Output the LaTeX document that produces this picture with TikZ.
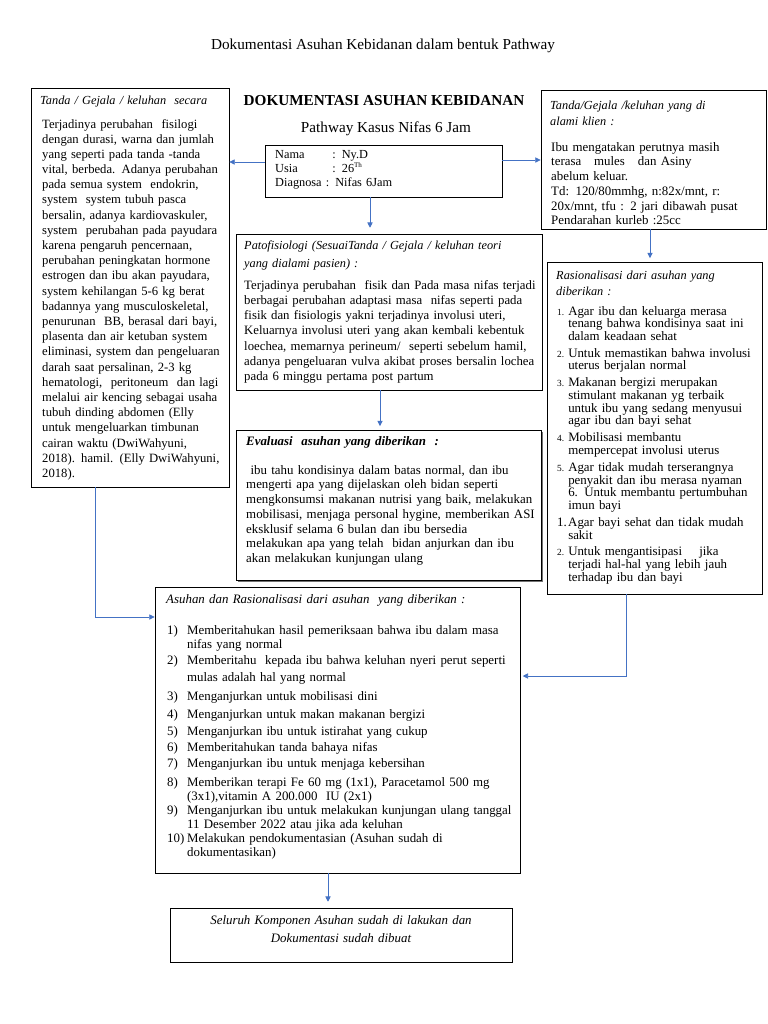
\documentclass[tikz,border=0pt]{standalone}
\usepackage{fontspec}
\setmainfont{Liberation Serif}
\usepackage{array}
\usetikzlibrary{arrows.meta, positioning, fit, shadows}
\definecolor{linkBlue}{HTML}{4472C4}

\newcommand{\ratnum}[1]{{\fontsize{8}{9}\selectfont #1}}
\newcommand{\js}[1]{\makebox[\linewidth][s]{#1}}

\tikzset{
  frame/.style={draw, line width=0.7pt, inner sep=0pt},
  txt/.style={anchor=base west, inner sep=0pt, align=left},
  head/.style={txt, font=\fontsize{10.5}{13.7}\selectfont\itshape},
  link/.style={draw=linkBlue, line width=0.6pt, -{Triangle[width=4.5pt,length=4.5pt]}},
}

\begin{document}
\begin{tikzpicture}[x=0.03cm, y=-0.03cm]
  \fill[white] (0,0) rectangle (768,1024);
  \useasboundingbox (0,0) rectangle (768,1024);

  % title
  \node[anchor=base, inner sep=0pt, font=\fontsize{13}{15}\selectfont] (title) at (383,49)
    {Dokumentasi Asuhan Kebidanan dalam bentuk Pathway};
  \node[anchor=base, inner sep=0pt, font=\bfseries\fontsize{13}{15}\selectfont] (heading) at (384,105)
    {DOKUMENTASI ASUHAN KEBIDANAN};
  \node[anchor=base, inner sep=0pt, font=\fontsize{13}{15}\selectfont] (subheading) at (386,132)
    {Pathway Kasus Nifas 6 Jam};

  % frames
  \node[frame, fit={(31,88) (229,487)}] (tanda) {};
  \node[frame, fit={(265,145) (502,197)}] (info) {};
  \node[frame, fit={(541,90) (766,229)}] (klien) {};
  \node[frame, fit={(236,234) (542,390)}] (pato) {};
  \node[frame, fit={(547,262) (762,594)}] (rasional) {};
  \node[frame, fill=white, drop shadow={shadow xshift=1.3pt, shadow yshift=-1.3pt, fill=black!55, opacity=1},
        fit={(236,430) (541,580)}] (evaluasi) {};
  \node[frame, fit={(155,587) (520,873)}] (asuhan) {};
  \node[frame, fit={(170,908) (512,962)}] (selesai) {};

  % left box
  \node[head, text width=6.5cm] (tandaHead) at (40,104) {Tanda / Gejala / keluhan\ \ secara};
  \node[txt, text width=7cm, font=\fontsize{10.8}{12.97}\selectfont] (tandaText) at (42,128) {%
    Terjadinya perubahan\ \ fisilogi\\
    dengan durasi, warna dan jumlah\\
    yang seperti pada tanda -tanda\\
    vital, berbeda. Adanya perubahan\\
    pada semua system\ \ endokrin,\\
    system\ \ system tubuh pasca\\
    bersalin, adanya kardiovaskuler,\\
    system\ \ perubahan pada payudara\\
    karena pengaruh pencernaan,\\
    perubahan peningkatan hormone\\
    estrogen dan ibu akan payudara,\\
    system kehilangan 5-6 kg berat\\
    badannya yang musculoskeletal,\\
    penurunan\ \ BB, berasal dari bayi,\\
    plasenta dan air ketuban system\\
    eliminasi, system dan pengeluaran\\
    darah saat persalinan, 2-3 kg\\
    hematologi,\ \ peritoneum\ \ dan lagi\\
    melalui air kencing sebagai usaha\\
    tubuh dinding abdomen (Elly\\
    untuk mengeluarkan timbunan\\
    cairan waktu (DwiWahyuni,\\
    2018). hamil. (Elly DwiWahyuni,\\
    2018).};

  % identity box
  \node[txt, text width=6.5cm, font=\fontsize{10.5}{11.95}\selectfont] (infoText) at (275,158) {%
    \begin{tabular}[t]{@{}p{48.7pt}@{}l@{}}
      Nama & : Ny.D\\
      Usia & : 26\textsuperscript{\fontsize{6}{7}\selectfont Th}\\
      \multicolumn{2}{@{}l@{}}{Diagnosa : Nifas 6Jam}
    \end{tabular}};

  % right top box
  \node[head, text width=7cm] (klienHead) at (550,109) {Tanda/Gejala /keluhan yang di\\alami klien :};
  \node[txt, text width=7cm, font=\fontsize{11}{12.63}\selectfont] (klienText) at (551,151) {%
    Ibu mengatakan perutnya masih\\
    \makebox[5.05cm][s]{terasa\quad mules\quad dan Asiny}\\
    abelum keluar.\\
    Td: 120/80mmhg, n:82x/mnt, r:\\
    20x/mnt, tfu : 2 jari dibawah pusat\\
    Pendarahan kurleb :25cc};

  % pathophysiology box
  \node[head, text width=10.5cm, font=\fontsize{10.5}{15.4}\selectfont\itshape] (patoHead) at (244,249)
    {Patofisiologi (SesuaiTanda / Gejala / keluhan teori\\yang dialami pasien) :};
  \node[txt, text width=10.5cm, font=\fontsize{10.9}{13.06}\selectfont] (patoText) at (244,289) {%
    Terjadinya perubahan\ \ fisik dan Pada masa nifas terjadi\\
    berbagai perubahan adaptasi masa\ \ nifas seperti pada\\
    fisik dan fisiologis yakni terjadinya involusi uteri,\\
    Keluarnya involusi uteri yang akan kembali kebentuk\\
    loechea, memarnya perineum/\ \ seperti sebelum hamil,\\
    adanya pengeluaran vulva akibat proses bersalin lochea\\
    pada 6 minggu pertama post partum};

  % rationale box
  \node[head, text width=6.5cm] (rasionalHead) at (556,279) {Rasionalisasi dari asuhan yang\\diberikan :};
  \node[txt, text width=6.5cm, font=\fontsize{11}{10.75}\selectfont] (rasionalText) at (557,315) {%
    \begin{tabular}[t]{@{}p{9.4pt}@{}p{162pt}@{}}
      \ratnum{1.} & \js{Agar ibu dan keluarga merasa}\\
                  & \js{tenang bahwa kondisinya saat ini}\\
                  & dalam keadaan sehat\\[3.5pt]
      \ratnum{2.} & Untuk memastikan bahwa involusi\\
                  & uterus berjalan normal\\[3.5pt]
      \ratnum{3.} & \js{Makanan bergizi merupakan}\\
                  & \js{stimulant makanan yg terbaik}\\
                  & \js{untuk ibu yang sedang menyusui}\\
                  & agar ibu dan bayi sehat\\[3.5pt]
      \ratnum{4.} & \js{Mobilisasi membantu}\\
                  & mempercepat involusi uterus\\[3.5pt]
      \ratnum{5.} & \js{Agar tidak mudah terserangnya}\\
                  & \js{penyakit dan ibu merasa nyaman}\\
                  & \js{6. Untuk membantu pertumbuhan}\\
                  & imun bayi\\[3.5pt]
      1.          & Agar bayi sehat dan tidak mudah\\
                  & sakit\\[3.5pt]
      \ratnum{2.} & Untuk mengantisipasi\quad\ jika\\
                  & terjadi hal-hal yang lebih jauh\\
                  & terhadap ibu dan bayi
    \end{tabular}};

  % evaluation box
  \node[txt, text width=10.5cm, font=\fontsize{11}{13}\selectfont\bfseries\itshape] (evaluasiHead) at (246,445)
    {Evaluasi\ \ asuhan yang diberikan\ \ :};
  \node[txt, text width=10.5cm, font=\fontsize{11}{12.63}\selectfont] (evaluasiText) at (246,474) {%
    \ ibu tahu kondisinya dalam batas normal, dan ibu\\
    mengerti apa yang dijelaskan oleh bidan seperti\\
    mengkonsumsi makanan nutrisi yang baik, melakukan\\
    mobilisasi, menjaga personal hygine, memberikan ASI\\
    eksklusif selama 6 bulan dan ibu bersedia\\
    melakukan apa yang telah\ \ bidan anjurkan dan ibu\\
    akan melakukan kunjungan ulang};

  % care box
  \node[head, text width=11cm, font=\fontsize{11}{13}\selectfont\itshape] (asuhanHead) at (166,603)
    {Asuhan dan Rasionalisasi dari asuhan\ \ yang diberikan :};
  \node[txt, text width=11cm, font=\fontsize{11}{11.95}\selectfont] (asuhanText) at (167,634) {%
    \begin{tabular}[t]{@{}p{17pt}@{}l@{}}
      1) & Memberitahukan hasil pemeriksaan bahwa ibu dalam masa\\
         & nifas yang normal\\[1.7pt]
      2) & Memberitahu\ \ kepada ibu bahwa keluhan nyeri perut seperti\\[2.6pt]
         & mulas adalah hal yang normal\\[4.3pt]
      3) & Menganjurkan untuk mobilisasi dini\\[3.4pt]
      4) & Menganjurkan untuk makan makanan bergizi\\[2.6pt]
      5) & Menganjurkan ibu untuk istirahat yang cukup\\[1.7pt]
      6) & Memberitahukan tanda bahaya nifas\\[1.7pt]
      7) & Menganjurkan ibu untuk menjaga kebersihan\\[4.3pt]
      8) & Memberikan terapi Fe 60 mg (1x1), Paracetamol 500 mg\\
         & (3x1),vitamin A 200.000\ \ IU (2x1)\\
      9) & Menganjurkan ibu untuk melakukan kunjungan ulang tanggal\\
         & 11 Desember 2022 atau jika ada keluhan\\
      10)& Melakukan pendokumentasian (Asuhan sudah di\\
         & dokumentasikan)
    \end{tabular}};

  % closing box
  \node[anchor=base, inner sep=0pt, align=center, text width=10cm,
        font=\fontsize{11}{15.4}\selectfont\itshape] (selesaiText) at (341,924)
    {Seluruh Komponen Asuhan sudah di lakukan dan\\Dokumentasi sudah dibuat};

  % connectors
  \draw[link] (info.west |- 0,162) -- (tanda.east |- 0,162);
  \draw[link] (info.east |- 0,160) -- (klien.west |- 0,160);
  \draw[link, shorten >=5pt] (info.south -| 370,0) -- (pato.north -| 370,0);
  \draw[link, shorten >=3pt] (pato.south -| 380,0) -- (evaluasi.north -| 380,0);
  \draw[link, shorten >=3pt] (klien.south -| 650,0) -- (rasional.north -| 650,0);
  \draw[link] (tanda.south -| 95,0) |- (asuhan.west |- 0,617);
  \draw[link, shorten >=2pt] (rasional.south -| 626,0) |- (asuhan.east |- 0,676);
  \draw[link, shorten >=5pt] (asuhan.south -| 328,0) -- (selesai.north -| 328,0);
\end{tikzpicture}
\end{document}
